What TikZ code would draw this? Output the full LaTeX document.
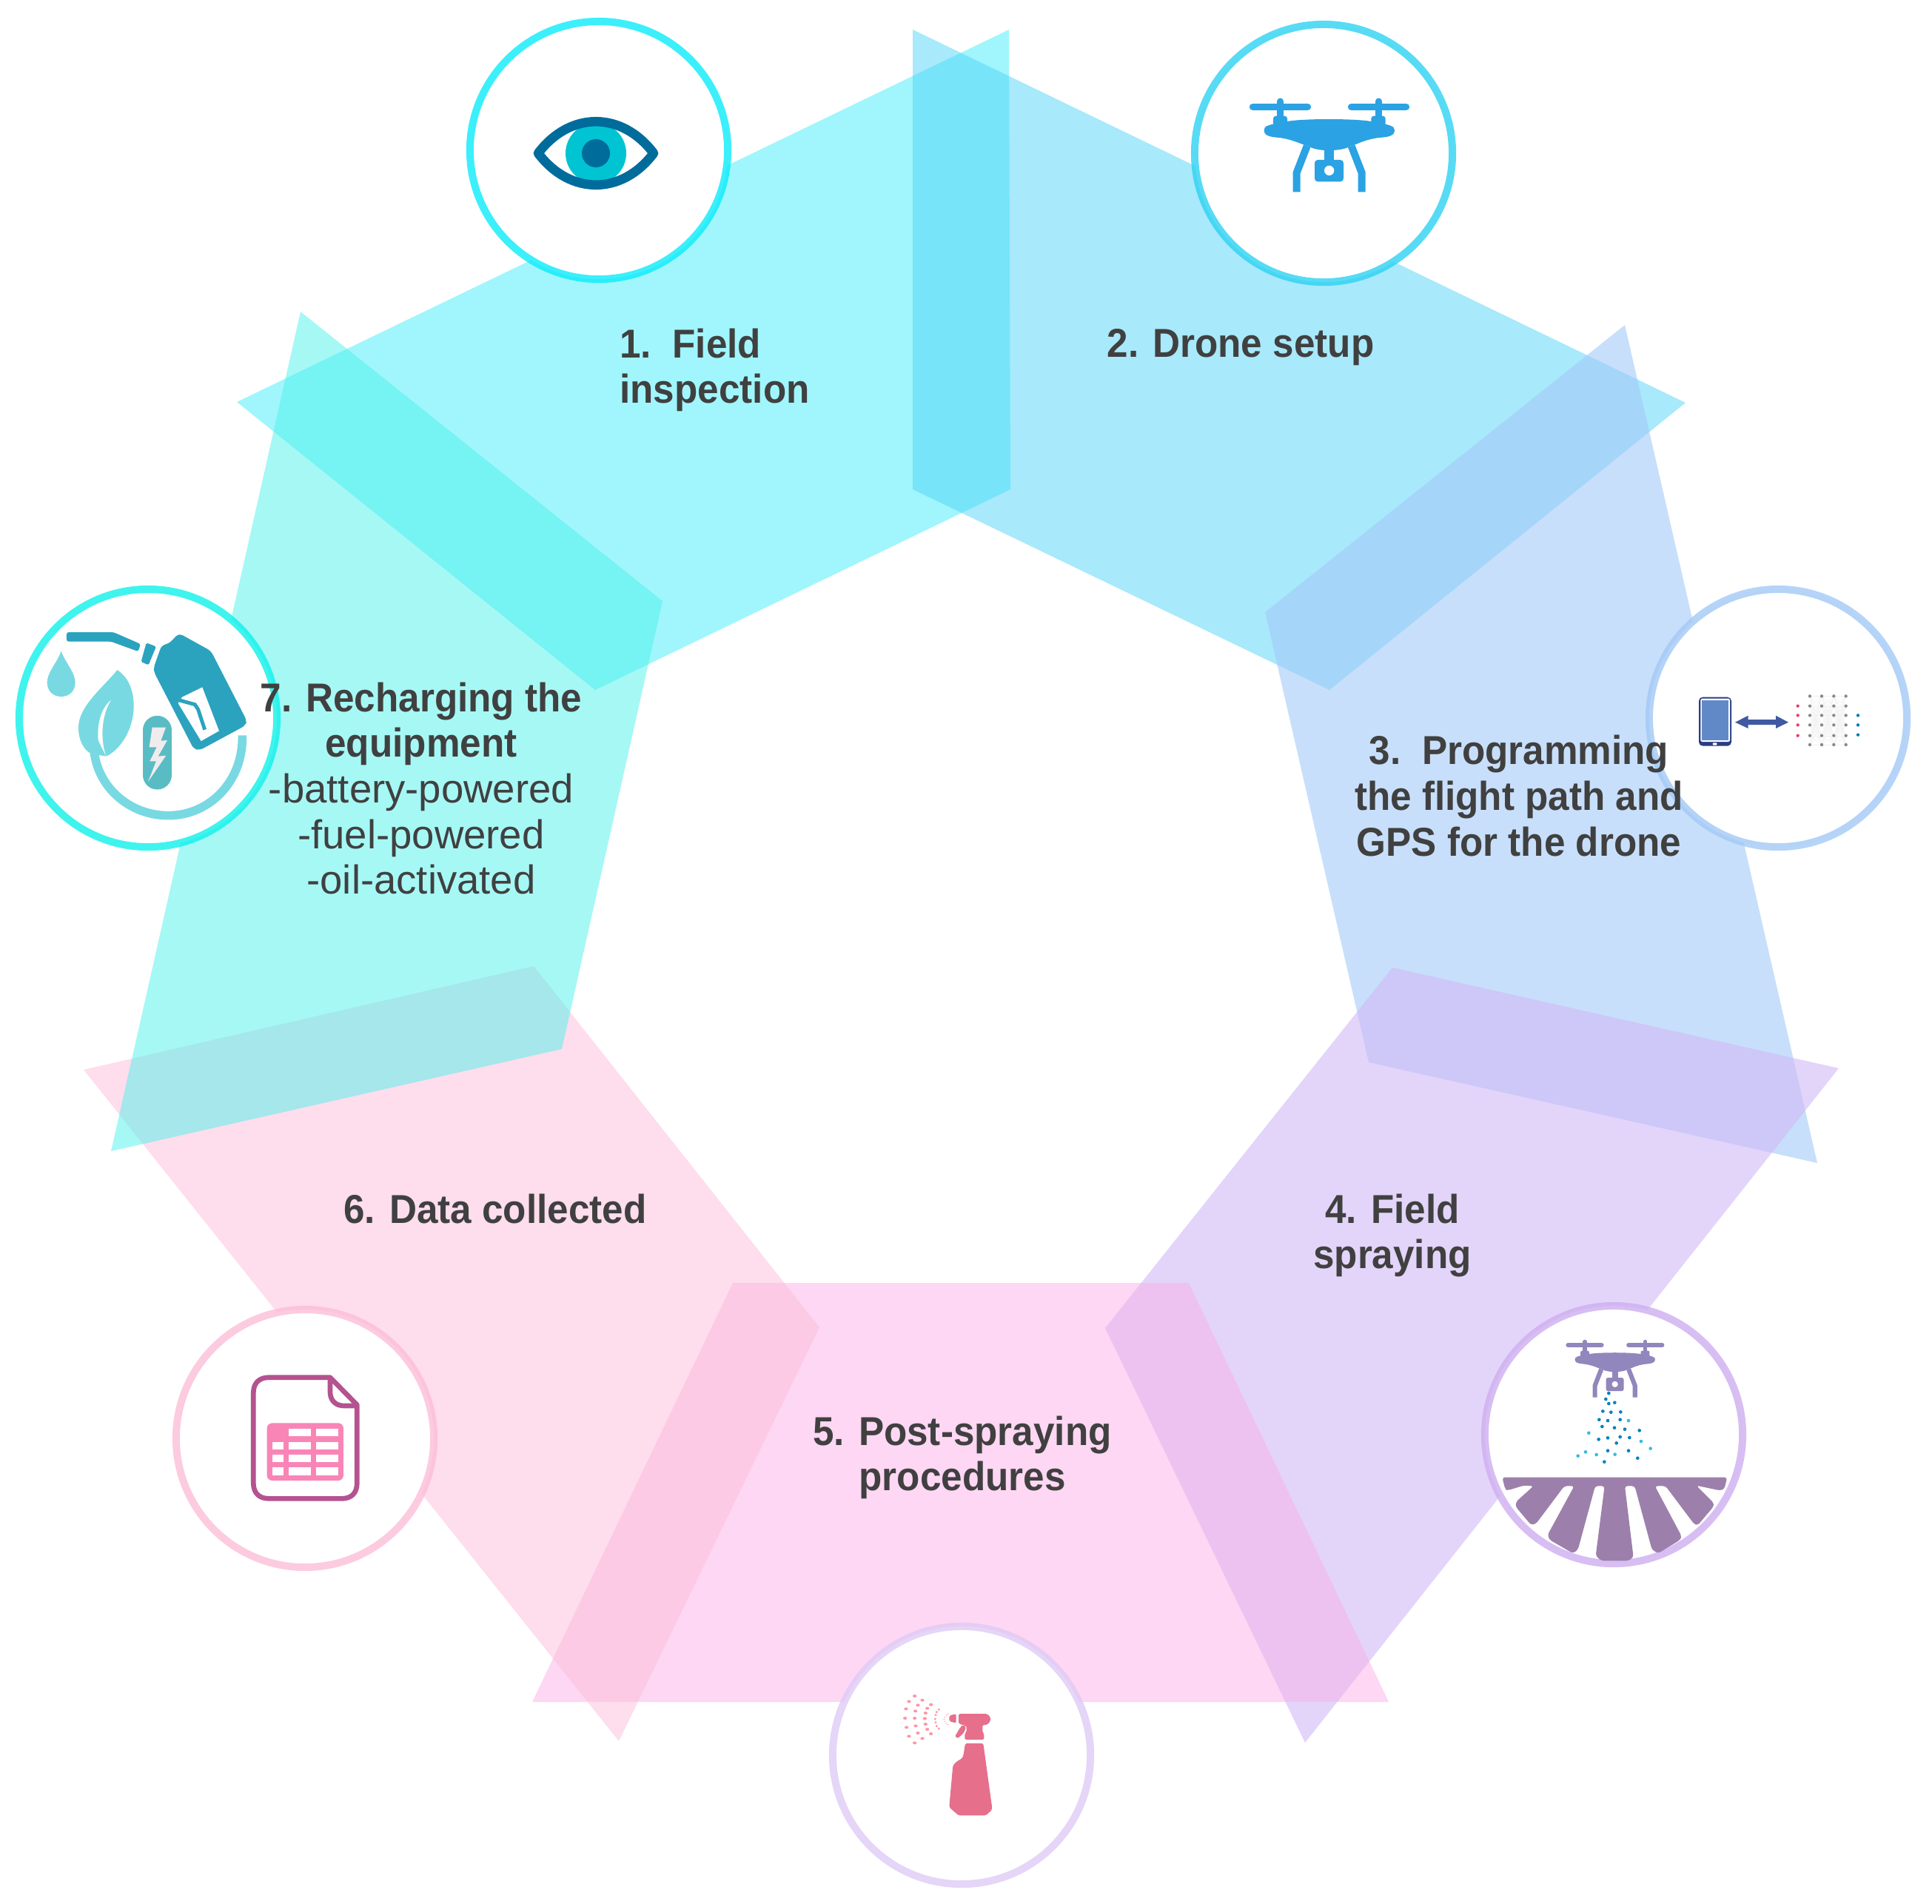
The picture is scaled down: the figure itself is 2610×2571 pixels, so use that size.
\documentclass[tikz,border=0pt]{standalone}
\usepackage{fontspec}
\setmainfont{Liberation Sans}[BoldFeatures={FakeStretch=.94}]
\definecolor{txtgray}{HTML}{404040}
\definecolor{bandA}{HTML}{41EDF9}
\definecolor{bandB}{HTML}{51D3F7}
\definecolor{bandC}{HTML}{A3CAF8}
\definecolor{bandD}{HTML}{D0B9F7}
\definecolor{bandE}{HTML}{FBB0E7}
\definecolor{bandF}{HTML}{FDBCD9}
\definecolor{bandG}{HTML}{4DF1EB}
\definecolor{ringA}{HTML}{0BEBFA}
\definecolor{ringB}{HTML}{2ED2F2}
\definecolor{ringC}{HTML}{A2C9F6}
\definecolor{ringD}{HTML}{CEAEEF}
\definecolor{ringE}{HTML}{DFCBF6}
\definecolor{ringF}{HTML}{FCBED8}
\definecolor{ringG}{HTML}{10F1EA}
\definecolor{eyeblue}{HTML}{006C9B}
\definecolor{eyecyan}{HTML}{00C4D2}
\definecolor{dronesky}{HTML}{2BA2E3}
\definecolor{dronelilac}{HTML}{9287BC}
\definecolor{fieldmauve}{HTML}{9C80AB}
\definecolor{dropdark}{HTML}{0082C0}
\definecolor{droplight}{HTML}{35BDE0}
\definecolor{tabletnavy}{HTML}{283D82}
\definecolor{tabletblue}{HTML}{6289C7}
\definecolor{arrowblue}{HTML}{3F5AA0}
\definecolor{dotgray}{HTML}{8C8787}
\definecolor{dotred}{HTML}{EF3C68}
\definecolor{dotblue}{HTML}{0078B4}
\definecolor{bottlerose}{HTML}{E66F8C}
\definecolor{spraypink}{HTML}{FF96A5}
\definecolor{docplum}{HTML}{B55290}
\definecolor{docpink}{HTML}{F985B7}
\definecolor{fueldark}{HTML}{2BA3BE}
\definecolor{fuellight}{HTML}{78D9E2}
\definecolor{pillteal}{HTML}{59BCC4}
\definecolor{boltwhite}{HTML}{F0ECEE}
\tikzset{
  band/.style={fill=#1,fill opacity=.5},
  ringnode/.style={circle,draw=#1,draw opacity=.8,fill=white,line width=2.85pt,minimum size=3.48cm,inner sep=0pt},
  stagetext/.style={text=txtgray,align=center,font=\fontsize{15.5}{17.5}\selectfont\bfseries},
}
% drone in crop pixels, #1 colour, #2 size factor
\newcommand{\dronepic}[2]{
\fill[#1] (323,497) .. controls (323,480) and (340,475) .. (417,462) .. controls (480,450) and (690,450) .. (757,462) .. controls (830,475) and (852,480) .. (852,497) .. controls (852,520) and (830,525) .. (790,528) .. controls (730,535) and (700,555) .. (650,572) .. controls (610,582) and (560,582) .. (525,572) .. controls (475,555) and (440,535) .. (385,528) .. controls (345,525) and (323,520) .. (323,497) -- cycle;
\draw[#1,line width=#2*2.75pt,line cap=round] (278,403) -- (499,403);
\draw[#1,line width=#2*2.75pt,line cap=round] (677,403) -- (898,403);
\draw[#1,line width=#2*2.6pt,line cap=round] (389,381) -- (389,450);
\draw[#1,line width=#2*2.6pt,line cap=round] (787,381) -- (787,450);
\fill[#1,rounded corners=#2*1pt] (360,440) rectangle (417,485);
\fill[#1,rounded corners=#2*1pt] (757,440) rectangle (815,485);
\draw[#1,line width=#2*2.85pt] (497,562) -- (455,670) -- (455,748);
\draw[#1,line width=#2*2.85pt] (677,562) -- (719,670) -- (719,748);
\fill[#1] (567,570) rectangle (607,625);
\fill[#1,rounded corners=#2*1.2pt] (528,618) rectangle (645,706);
\fill[white] (587,661) circle[radius=20];
}

\begin{document}
\begin{tikzpicture}[x=0.01cm,y=-0.01cm]
\useasboundingbox (0,0) rectangle (2610,2571);

\fill[band=bandA] (1363,40) -- (1365,661) -- (804,932) -- (320,543) -- cycle;
\fill[band=bandB] (1233,40) -- (2277,544) -- (1796,932) -- (1233,661) -- cycle;
\fill[band=bandC,fill opacity=.6] (2195,439) -- (2455,1571) -- (1849,1435) -- (1709,827) -- cycle;
\fill[band=bandD,fill opacity=.6] (2484,1443) -- (1763,2354) -- (1493,1794) -- (1881,1307) -- cycle;
\fill[band=bandE] (990,1733) -- (1606,1733) -- (1876,2299) -- (719,2299) -- cycle;
\fill[band=bandF] (113,1445) -- (721,1305) -- (1107,1793) -- (836,2352) -- cycle;
\fill[band=bandG] (406,421) -- (895,812) -- (759,1417) -- (150,1555) -- cycle;

\node[ringnode=ringA] (inspect) at (809,203) {};
\node[ringnode=ringB] (setup) at (1788,207) {};
\node[ringnode=ringC] (program) at (2402,970) {};
\node[ringnode=ringD] (spray) at (2180,1938) {};
\node[ringnode=ringE] (post) at (1299,2371) {};
\node[ringnode=ringF] (data) at (412,1943) {};
\node[ringnode=ringG] (recharge) at (200,970) {};

% eye
\begin{scope}[shift={(805,207)}]
\begin{scope}
\clip (-78,0) .. controls (-35,-57) and (35,-57) .. (78,0) .. controls (35,57) and (-35,57) .. (-78,0) -- cycle;
\fill[eyecyan] (0,0) circle[radius=41];
\end{scope}
\fill[eyeblue] (0,0) circle[radius=19];
\draw[eyeblue,line width=3.6pt,line join=round] (-78,0) .. controls (-35,-57) and (35,-57) .. (78,0) .. controls (35,57) and (-35,57) .. (-78,0) -- cycle;
\end{scope}

% drone
\begin{scope}[shift={(1600,10)},scale=.3333]
\dronepic{dronesky}{1}
\end{scope}

% tablet and network
\begin{scope}[shift={(2220,780)},scale=.3333]
\fill[tabletnavy,rounded corners=1.5pt] (225,485) rectangle (357,683);
\fill[white,rounded corners=.5pt] (232,491) rectangle (351,666);
\fill[tabletblue] (238,498) rectangle (345,660);
\fill[white,rounded corners=.5pt] (280,670) rectangle (300,680);
\fill[arrowblue] (372,587) -- (425,560) -- (425,576) -- (537,576) -- (537,560) -- (588,587) -- (537,612) -- (537,597) -- (425,597) -- (425,612) -- cycle;
\foreach \xa/\xb in {675/723,723/772,772/821}
  \foreach \ya in {481,521,559,598,641,678}
    \foreach \yb in {481,521,559,598,641,678}
      \draw[black!6,line width=.1pt] (\xa,\ya) -- (\xb,\yb);
\foreach \xb in {675,723,772,821}
  \foreach \yb in {481,521,559,598,641,678}
    \fill[dotgray] (\xb,\yb) circle[radius=6.5];
\foreach \yb in {521,559,598,641}
  \fill[dotred] (626,\yb) circle[radius=6.5];
\foreach \yb in {559,598,638}
  \fill[dotblue] (870,\yb) circle[radius=6.5];
\end{scope}

% drone over field
\begin{scope}[shift={(1990,1750)},scale=.3333]
\fill[fieldmauve,rounded corners=1pt] (118,737) -- (1030,737) -- (1018,785) -- (1000,790) -- (905,770) -- (975,840) -- (975,855) -- (910,932) -- (895,925) -- (780,772) -- (737,772) -- (845,975) -- (840,990) -- (750,1045) -- (725,1030) -- (655,772) -- (615,772) -- (650,1060) -- (630,1075) -- (520,1075) -- (497,1055) -- (533,772) -- (495,772) -- (425,1030) -- (405,1045) -- (310,990) -- (302,970) -- (410,772) -- (370,772) -- (255,925) -- (235,930) -- (172,855) -- (175,835) -- (245,772) -- (205,770) -- (140,790) -- (130,785) -- cycle;
\begin{scope}[shift={(214,-47)},scale=.615]
\dronepic{dronelilac}{.615}
\end{scope}
\foreach \xa/\ya in {550/396,538/420,574/434,550/438,526/469,559/473,598/472,511/503,546/507,596/503,523/531,573/536,615/542,674/547,509/583,546/577,596/573,634/576,581/598,546/629,630/629,667/659,532/674}
  \fill[dropdark] (\xa,\ya) circle[radius=7];
\foreach \xa/\ya in {630/507,469/557,681/591,719/620,456/634,425/650,500/645,575/644}
  \fill[droplight] (\xa,\ya) circle[radius=7];
\end{scope}

% spray bottle
\begin{scope}[shift={(1110,2180)},scale=.3333]
\fill[bottlerose,rounded corners=.5pt] (582,525) -- (655,525) -- (690,780) -- (690,795) -- (665,817) -- (555,817) -- (518,785) -- (518,770) -- (532,615) -- (545,600) -- (570,585) -- (575,570) -- cycle;
\fill[bottlerose,rounded corners=.5pt] (555,405) -- (670,405) -- (684,418) -- (684,435) -- (670,450) -- (652,450) -- (652,482) -- (658,485) -- (658,510) -- (580,510) -- (580,485) -- (587,480) -- (587,455) -- (555,445) -- cycle;
\fill[bottlerose,rounded corners=.5pt] (572,450) -- (585,458) -- (578,480) -- (552,505) -- (540,497) -- (562,460) -- cycle;
\fill[bottlerose,rounded corners=.5pt] (517,413) -- (545,405) -- (545,443) -- (517,435) -- cycle;
\foreach \xa/\ya in {377/333,408/350,443/368,354/355,390/370,428/383,342/385,380/394,421/402,338/423,377/423,418/424,344/460,381/454,421/447,354/496,390/483,428/468,377/523,408/505,443/486}
  \fill[spraypink] (\xa,\ya) ellipse[x radius=8,y radius=6];
\foreach \xa/\ya in {475/388,466/398,462/410,460/426,462/440,466/455,475/465}
  \fill[spraypink] (\xa,\ya) circle[radius=5];
\foreach \xa/\ya in {512/405,505/410,499/418,496/427,499/436,505/444,512/449}
  \fill[spraypink] (\xa,\ya) circle[radius=2.5];
\end{scope}

% spreadsheet
\begin{scope}[shift={(220,1755)},scale=.3333]
\fill[docpink,rounded corners=2pt] (422,502) rectangle (732,735);
\fill[white] (510,525) rectangle (600,556);
\fill[white] (622,525) rectangle (711,556);
\foreach \ya/\yb in {578/608,630/661,682/713}{
  \fill[white] (443,\ya) rectangle (489,\yb);
  \fill[white] (510,\ya) rectangle (600,\yb);
  \fill[white] (622,\ya) rectangle (711,\yb);
}
\draw[docplum,line width=1.9pt,line join=round] (678,317) -- (430,317) .. controls (390,317) and (367,340) .. (367,380) -- (367,745) .. controls (367,785) and (390,808) .. (430,808) -- (725,808) .. controls (765,808) and (787,785) .. (787,745) -- (787,428) -- cycle;
\draw[docplum,line width=1.9pt] (678,317) -- (678,375) .. controls (678,410) and (700,432) .. (735,432) -- (787,432);
\end{scope}

% fuel nozzle, leaf and battery
\begin{scope}[shift={(15,780)},scale=.3333]
\fill[fueldark,rounded corners=.8pt] (225,222) -- (415,222) -- (525,270) -- (515,300) -- (405,260) -- (225,260) -- cycle;
\fill[fueldark,rounded corners=.5pt] (548,265) -- (588,280) -- (557,355) -- (527,342) -- cycle;
\fill[fueldark,rounded corners=1.5pt] (680,226) -- (810,298) -- (955,580) -- (950,600) -- (765,700) -- (740,695) -- (580,385) -- (578,365) -- (610,275) -- (640,268) -- cycle;
\fill[white] (693,485) -- (775,445) -- (843,622) -- (770,663) -- (677,510) -- cycle;
\draw[fueldark,line width=1.4pt] (680,497) -- (745,515) -- (758,535) -- (785,617);
\fill[fuellight] (203,298) .. controls (190,340) and (146,385) .. (146,425) .. controls (146,460) and (170,483) .. (203,483) .. controls (236,483) and (260,460) .. (260,425) .. controls (260,385) and (216,340) .. (203,298) -- cycle;
\fill[fuellight] (430,375) .. controls (470,400) and (497,450) .. (497,520) .. controls (497,620) and (440,700) .. (385,725) -- (325,715) .. controls (295,700) and (273,660) .. (273,610) .. controls (272,520) and (380,440) .. (430,375) -- cycle;
\fill[white] (405,497) .. controls (365,530) and (348,590) .. (353,660) -- (385,725) .. controls (365,670) and (360,570) .. (405,497) -- cycle;
\draw[fuellight,line width=3.3pt] (937,640) .. controls (942,830) and (800,965) .. (638,965) .. controls (480,965) and (350,850) .. (336,700);
\draw[pillteal,line width=11.1pt,line cap=round] (592,619) -- (592,801);
\fill[boltwhite] (572,608) -- (627,608) -- (607,662) -- (633,660) -- (596,725) -- (628,722) -- (555,828) -- (588,745) -- (562,745) -- (590,688) -- (560,688) -- cycle;
\end{scope}

\node[stagetext,align=left,anchor=west] (textA) at (825,500) {1.\ \ Field\\ inspection};
\node[stagetext] (textB) at (1676,469) {2. Drone setup};
\node[stagetext] (textC) at (2052,1075) {3.\ \ Programming\\ the flight path and\\ GPS for the drone};
\node[stagetext] (textD) at (1881,1669) {4. Field\\ spraying};
\node[stagetext] (textE) at (1300,1969) {5. Post-spraying\\ procedures};
\node[stagetext] (textF) at (669,1633) {6. Data collected};
\node[stagetext] (textG) at (569,1065) {7. Recharging the\\ equipment\\ \mdseries -battery-powered\\ \mdseries -fuel-powered\\ \mdseries -oil-activated};

\end{tikzpicture}
\end{document}
